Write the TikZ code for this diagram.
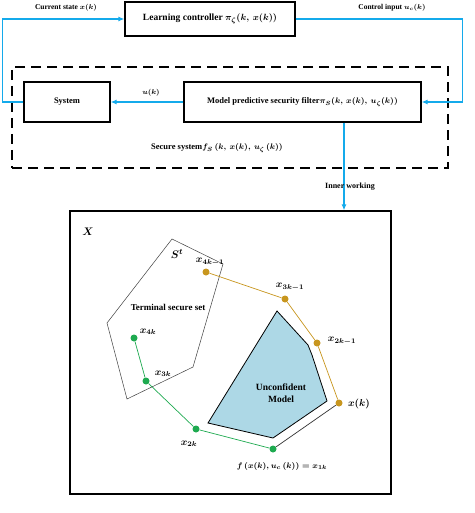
\documentclass[tikz,border=0pt]{standalone}
\usepackage{fontspec}
\setmainfont{Liberation Serif}
\usetikzlibrary{arrows.meta}
\definecolor{flowblue}{RGB}{20,170,235}
\definecolor{trajgold}{RGB}{200,150,30}
\definecolor{trajgreen}{RGB}{30,170,80}
\definecolor{modelblue}{RGB}{173,216,230}

\begin{document}
\begin{tikzpicture}[x=1pt,y=-1pt,
    blockbox/.style={draw,line width=1.2pt,inner sep=0pt,font=\fontsize{8.5}{9.5}\selectfont\bfseries\boldmath},
    flow/.style={draw=flowblue,line width=1.5pt,-{Latex[length=6pt,width=5pt]}},
    smalllabel/.style={font=\fontsize{7.5}{8.5}\selectfont\bfseries\boldmath},
    boldlabel/.style={font=\fontsize{9}{10}\selectfont\bfseries\boldmath},
    ptlabel/.style={font=\fontsize{10}{11}\selectfont\bfseries\boldmath},
    trajdot/.style={circle,fill=#1,inner sep=0pt,minimum size=7pt}]
  \useasboundingbox[fill=white] (0,0) rectangle (474,513);

  % Blocks
  \node[blockbox,minimum width=170pt,minimum height=34pt,font=\fontsize{9.5}{10.5}\selectfont\bfseries\boldmath] (ctrl) at (210,19) {Learning controller $\pi_\zeta(k,\,x(k))$};
  \node[draw,dash pattern=on 10pt off 6pt,line width=1.2pt,minimum width=436pt,minimum height=101pt] (secure) at (230,117.5) {};
  \node[blockbox,minimum width=86pt,minimum height=40pt] (sys) at (67,102) {System};
  \node[blockbox,minimum width=237pt,minimum height=40pt] (filter) at (302.5,102) {Model predictive security filter$\pi_S(k,\,x(k),\,u_\zeta(k))$};
  \node[boldlabel,font=\fontsize{8.5}{9.5}\selectfont\bfseries\boldmath] (securelabel) at (217,148) {Secure system$f_S\,(k,\,x(k),\,u_\zeta\,(k))$};
  \node[draw,line width=1.2pt,minimum width=321pt,minimum height=283pt] (world) at (230.5,352.5) {};

  % Connectors
  \draw[flow] (sys.west) -- ++(-21,0) |- (ctrl.west);
  \draw[flow] (ctrl.east) -| ++(167,83) -- (filter.east);
  \draw[flow] (filter.west) -- (sys.east);
  \draw[flow] ([xshift=41.5pt]filter.south) -- ([xshift=41.5pt]filter.south |- world.north);

  % Connector labels
  \node[smalllabel] (statelabel) at (66,8) {Current state $x(k)$};
  \node[smalllabel] (inputlabel) at (392,8) {Control input $u_c(k)$};
  \node[smalllabel] (ulabel) at (151,93) {$u(k)$};
  \node[smalllabel,font=\fontsize{8}{9}\selectfont\bfseries] (innerlabel) at (350,187) {Inner working};

  % State space
  \node[ptlabel,font=\fontsize{11}{12}\selectfont\bfseries\boldmath] (xlabel) at (88,232) {$X$};
  \draw[black!75,line width=0.5pt] (172,239) -- (223,264) -- (193,367) -- (127,399) -- (107,323) -- cycle;
  \node[ptlabel,font=\fontsize{11}{12}\selectfont\bfseries\boldmath] (stlabel) at (177,254) {$S^t$};
  \node[boldlabel] (termlabel) at (168,307) {Terminal secure set};
  \draw[fill=modelblue,line width=0.8pt] (277,311) -- (308,345) -- (312,355) -- (327,401) -- (273,438) -- (208,423) -- cycle;
  \node[boldlabel,align=center,font=\fontsize{9.5}{12}\selectfont\bfseries] (modellabel) at (281,393) {Unconfident\\Model};

  % Trajectories
  \node[trajdot=trajgold] (g4) at (206,272) {};
  \node[trajdot=trajgold] (g3) at (285,299) {};
  \node[trajdot=trajgold] (g2) at (317,343) {};
  \node[trajdot=trajgold] (xk) at (339,403) {};
  \node[trajdot=trajgreen] (n4) at (134,338) {};
  \node[trajdot=trajgreen] (n3) at (146,381) {};
  \node[trajdot=trajgreen] (n2) at (196,429) {};
  \node[trajdot=trajgreen] (n1) at (273,449) {};
  \draw[trajgold,line width=0.7pt] (g4) -- (g3) -- (g2) -- (xk);
  \draw[trajgreen,line width=0.7pt] (n4) -- (n3) -- (n2) -- (n1);
  \draw[black!80,line width=0.7pt] (xk) -- (n1);

  \node[ptlabel] (g4label) at (210,262) {$x_{4k-1}$};
  \node[ptlabel] (g3label) at (290,287) {$x_{3k-1}$};
  \node[ptlabel] (g2label) at (342,341) {$x_{2k-1}$};
  \node[ptlabel] (xklabel) at (359,404) {$x(k)$};
  \node[ptlabel] (n4label) at (148,332) {$x_{4k}$};
  \node[ptlabel] (n3label) at (163,374) {$x_{3k}$};
  \node[ptlabel] (n2label) at (189,444) {$x_{2k}$};
  \node[ptlabel,font=\fontsize{8.5}{10}\selectfont\bfseries\boldmath] (n1label) at (282,466) {$f\,(x(k),u_c\,(k))= x_{1k}$};
\end{tikzpicture}
\end{document}
